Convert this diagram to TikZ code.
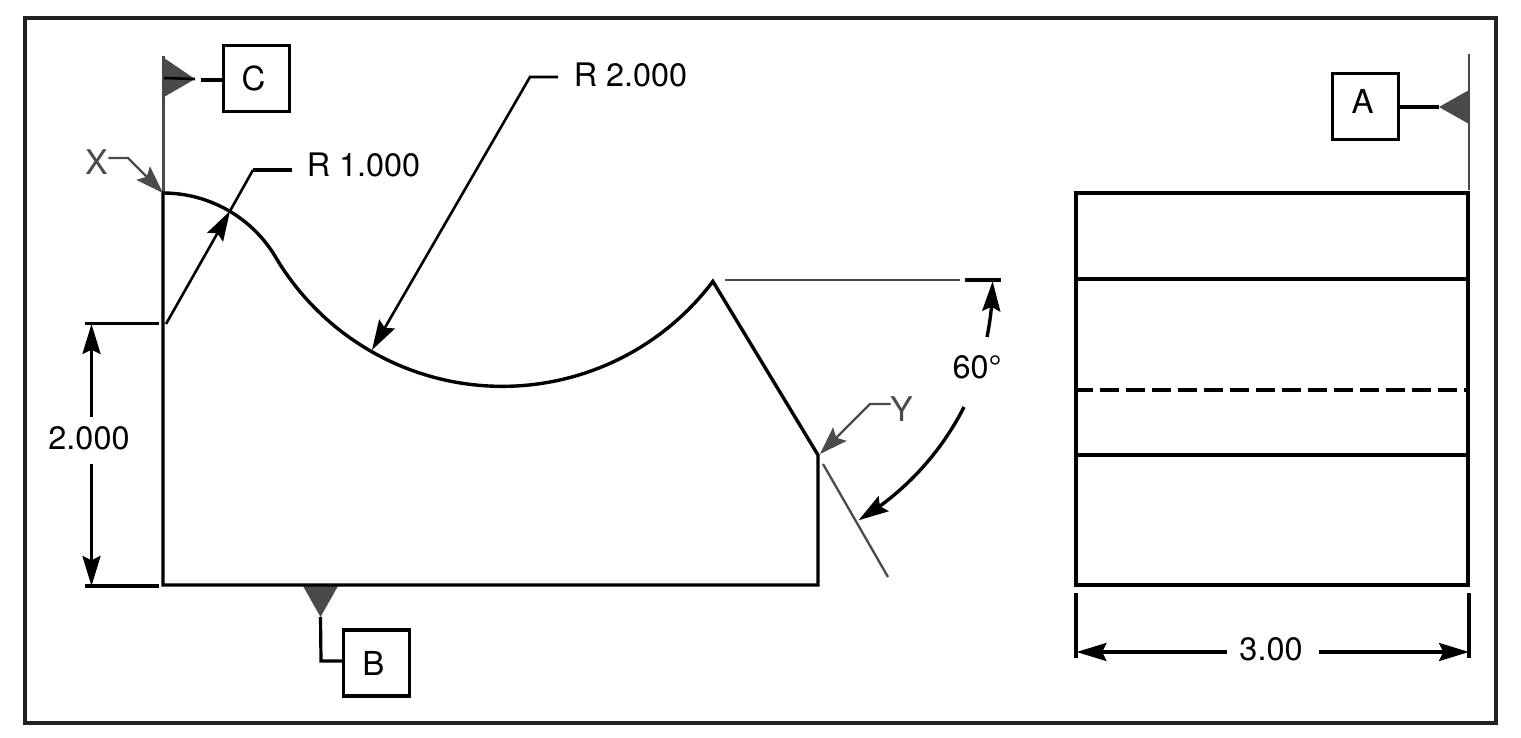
\documentclass[tikz,border=0pt]{standalone}
\usepackage{fontspec}
\setmainfont{TeX Gyre Heros}
\usetikzlibrary{arrows.meta,bending}
\definecolor{dg}{HTML}{4A4A4A}
\tikzset{
  outline/.style={line width=1.7pt,black,line join=miter},
  thin line/.style={line width=1.3pt,black},
  dim line/.style={line width=1.6pt,black},
  grey line/.style={line width=1.15pt,dg},
  dimtip/.style={-{Stealth[length=15pt,width=9pt,inset=2.2pt]}},
  greytip/.style={-{Stealth[length=14pt,width=9.5pt,inset=2.5pt]}},
  databox/.style={draw,line width=1.6pt,minimum width=33pt,minimum height=33pt,inner sep=0pt,outer sep=0pt,font=\fontsize{16.5}{18}\selectfont},
  lab/.style={inner sep=0pt,outer sep=0pt,font=\fontsize{16.2}{18}\selectfont},
  greylab/.style={lab,font=\fontsize{17}{18}\selectfont,text=dg},
  wedge/.style={fill=dg,draw=none},
}
\begin{document}
\begin{tikzpicture}[x=0.5pt,y=-0.5pt]
\useasboundingbox (0,0) rectangle (1521,738);
\fill[white] (0,0) rectangle (1521,738);
\draw[line width=2pt,black!87] (25,18) rectangle (1496,723);

% key points
\coordinate (xtop) at (163,193);
\coordinate (peak) at (714,280);
\coordinate (notch) at (818,455);
\coordinate (br) at (818,585);
\coordinate (bl) at (163,585);

% datum boxes and labels
\node[databox] (C) at (256.5,78.5) {\hspace*{-3pt}C};
\node[databox] (A) at (1365.5,106.5) {\hspace*{-3pt}\raisebox{5pt}{A}};
\node[databox] (B) at (376.5,663) {\hspace*{-3pt}B};
\node[lab] (r1) at (363.5,165) {R 1.000};
\node[lab] (r2) at (630.5,75) {R 2.000};
\node[lab] (d2) at (89,438) {2.000};
\node[lab] (d3) at (1271,649) {3.00};
\node[lab] (ang) at (977,367) {60°};
\node[greylab] (X) at (97,162) {X};
\node[greylab] (Y) at (902,409) {Y};

% datum wedges
\coordinate (ctip) at (195,79);
\coordinate (atip) at (1439,107);
\coordinate (btip) at (320.5,617);
\fill[wedge] (164,58) -- (ctip) -- (164,97) -- cycle;
\fill[wedge] (1469,90) -- (atip) -- (1469,124) -- cycle;
\fill[wedge] (303,586) -- (338,586) -- (btip) -- cycle;

% extension lines and datum leaders
\draw[grey line] (163.5,56) -- (163.5,193);
\draw[grey line] (1469,54) -- (1469,190);
\coordinate (cg) at (201,80);
\draw[thin line] (164,78) -- (ctip);
\draw[dim line] (cg) -- (C.west |- cg);
\draw[dim line] (A.east |- atip) -- (atip);
\draw[dim line,line join=miter] (btip) -- (321,661) -- (B.west |- 321,661);

% part outline
\draw[outline] (xtop) arc[start angle=-90,end angle=-29.6,radius=131]
  arc[start angle=148.8,end angle=37,radius=263.6] -- (notch) -- (br) -- (bl) -- cycle;

% end view
\draw[outline] (1076,193) rectangle (1468,585);
\draw[outline] (1076,279) -- (1468,279);
\draw[outline] (1076,455) -- (1468,455);
\draw[outline,dash pattern=on 9.5pt off 3.5pt,dash phase=1pt] (1076,390) -- (1468,390);

% R leaders
\coordinate (r1k) at (253,170);
\coordinate (r1e) at (166,324);
\coordinate (r1a) at (230,211);
\draw[thin line,dimtip] (r1e) -- (r1a);
\draw[thin line] (r1a) -- (r1k);
\draw[outline] (r1k) -- (292,170);
\coordinate (r2k) at (530,77);
\draw[thin line,dimtip] (558,77) -- (r2k) -- (372,350);

% X, Y leaders
\draw[grey line,greytip] (X.east |- 0,158) -- (128,158) -- (xtop);
\draw[grey line,greytip] (Y.west |- 0,404) -- (870,404) -- (820,454);

% 2.000 dimension
\draw[dim line] (85,323.7) -- (159,323.7);
\draw[dim line] (85,586) -- (159,586);
\draw[dim line,dimtip] (91.5,417) -- (91.5,324);
\draw[dim line,dimtip] (91.5,464) -- (91.5,586);

% 3.00 dimension
\draw[dim line] (1076,593) -- (1076,658);
\draw[dim line] (1469,593) -- (1469,658);
\draw[dim line,dimtip] (1227,652) -- (1076.5,652);
\draw[dim line,dimtip] (1319,652) -- (1469,652);

% 60 degree dimension
\draw[grey line] (725,280) -- (960,280);
\draw[outline] (965,280) -- (1001,280);
\draw[grey line] (823,464) -- (888,577);
\draw[outline,dimtip] (987,337) arc[start angle=11.5,end angle=0,radius=280];
\draw[outline,dimtip] (964,407) arc[start angle=26.9,end angle=59,radius=280];
\end{tikzpicture}
\end{document}
